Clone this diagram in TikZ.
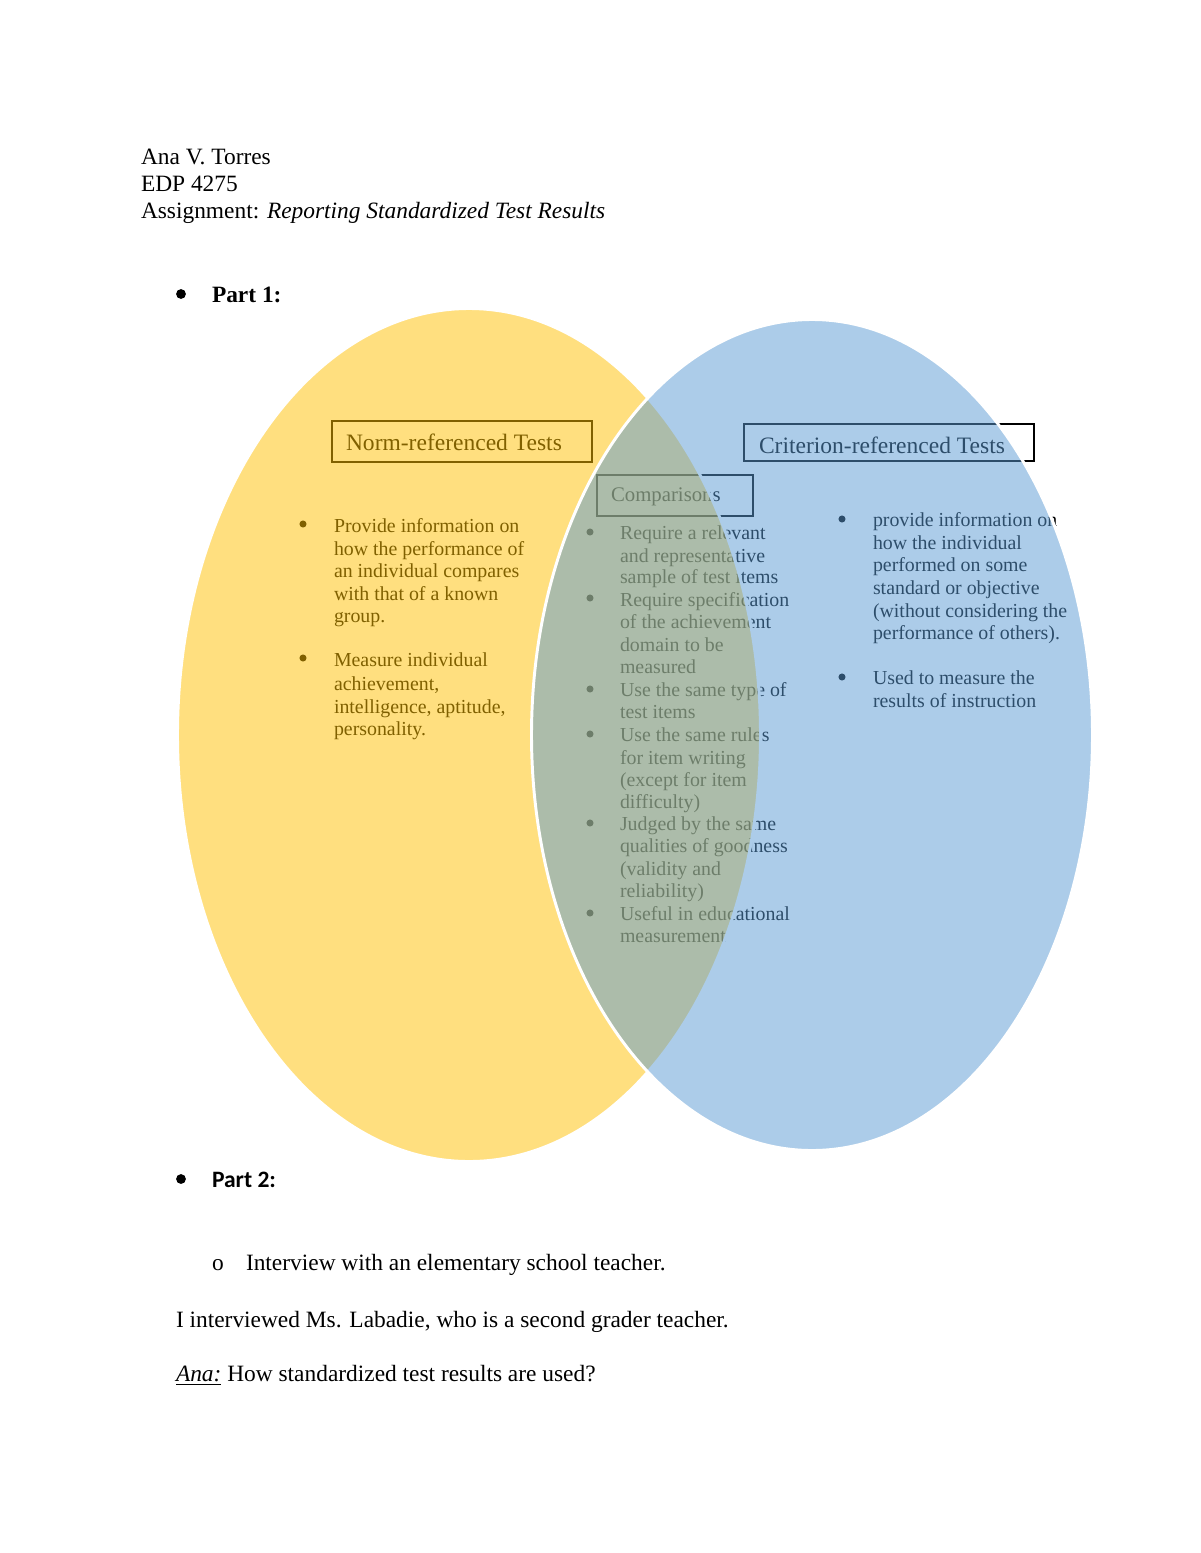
\documentclass[tikz,border=0pt]{standalone}
\usepackage{fontspec}
\setmainfont{Liberation Serif}
\newfontfamily\partfont{Carlito}
\definecolor{vennyellow}{HTML}{FFC000}
\definecolor{vennblue}{HTML}{5B9BD5}
\tikzset{
  txt/.style={anchor=base west,inner sep=0pt,outer sep=0pt,font=\fontsize{11.93}{14}\selectfont},
  lst/.style={anchor=base west,inner sep=0pt,outer sep=0pt,font=\fontsize{10.13}{12}\selectfont},
  hdr/.style={anchor=base west,inner sep=0pt,outer sep=0pt,font=\fontsize{12}{14}\selectfont},
  dot/.style={circle,fill=black,inner sep=0pt,minimum size=3.6pt},
  bigdot/.style={circle,fill=black,inner sep=0pt,minimum size=5pt},
  lblbox/.style={draw=black,line width=0.7pt},
  venn/.style={draw=white,line width=1.5pt,fill opacity=0.5,draw opacity=1}
}
\begin{document}
\begin{tikzpicture}[x=0.51pt,y=-0.51pt]
\useasboundingbox[fill=white] (0,0) rectangle (1200,1553);
% header
\node[txt] (t1) at (141,164.5) {Ana V. Torres};
\node[txt] (t2) at (141,191.5) {EDP 4275};
\node[txt] (t3) at (141,218.5) {Assignment: \textit{Reporting Standardized Test Results}};
\node[bigdot] (b1) at (181,294) {};
\node[txt] (p1) at (212,302) {\textbf{Part 1:}};
% label boxes
\node[lblbox,minimum width=132.6pt,minimum height=20.9pt,inner sep=0pt] (bn) at (462,441.5) {};
\node[lblbox,minimum width=79.6pt,minimum height=20.9pt,inner sep=0pt] (bc) at (675,495.5) {};
\node[lblbox,minimum width=147.9pt,minimum height=18.9pt,inner sep=0pt] (br) at (889,442.5) {};
\node[hdr] (hn) at (346,450) {Norm-referenced Tests};
\node[hdr] (hc) at (611,501) {\fontsize{10.6}{12}\selectfont Comparisons};
\node[hdr] (hr) at (759,453) {Criterion-referenced Tests};
% left list
\node[dot] (l1) at (303,524) {};
\node[lst] (la) at (334,532) {Provide information on};
\node[lst] (lb) at (334,555) {how the performance of};
\node[lst] (lc) at (334,577) {an individual compares};
\node[lst] (ld) at (334,600) {with that of a known};
\node[lst] (le) at (334,622) {group.};
\node[dot] (l2) at (303,658) {};
\node[lst] (lf) at (334,666) {Measure individual};
\node[lst] (lg) at (334,690) {achievement,};
\node[lst] (lh) at (334,713) {intelligence, aptitude,};
\node[lst] (li) at (334,735) {personality.};
% centre list
\node[dot] (c1) at (590,532) {};
\node[lst] (ca) at (620,539) {Require a relevant};
\node[lst] (cb) at (620,562) {and representative};
\node[lst] (cc) at (620,583) {sample of test items};
\node[dot] (c2) at (590,598) {};
\node[lst] (cd) at (620,606) {Require specification};
\node[lst] (ce) at (620,628) {of the achievement};
\node[lst] (cf) at (620,651) {domain to be};
\node[lst] (cg) at (620,673) {measured};
\node[dot] (c3) at (590,689) {};
\node[lst] (ch) at (620,696) {Use the same type of};
\node[lst] (ci) at (620,718) {test items};
\node[dot] (c4) at (590,734) {};
\node[lst] (cj) at (620,741) {Use the same rules};
\node[lst] (ck) at (620,764) {for item writing};
\node[lst] (cl) at (620,786) {(except for item};
\node[lst] (cm) at (620,808) {difficulty)};
\node[dot] (c5) at (590,823) {};
\node[lst] (cn) at (620,830) {Judged by the same};
\node[lst] (co) at (620,852) {qualities of goodness};
\node[lst] (cp) at (620,875) {(validity and};
\node[lst] (cq) at (620,897) {reliability)};
\node[dot] (c6) at (590,913) {};
\node[lst] (cr) at (620,920) {Useful in educational};
\node[lst] (cs) at (620,942) {measurement};
% right list
\node[dot] (r1) at (842,519) {};
\node[lst] (ra) at (873,526) {provide information on};
\node[lst] (rb) at (873,549) {how the individual};
\node[lst] (rc) at (873,571) {performed on some};
\node[lst] (rd) at (873,594) {standard or objective};
\node[lst] (re) at (873,617) {(without considering the};
\node[lst] (rf) at (873,639) {performance of others).};
\node[dot] (r2) at (842,677) {};
\node[lst] (rg) at (873,684) {Used to measure the};
\node[lst] (rh) at (873,707) {results of instruction};
% venn circles, over the text
\path[venn,fill=vennyellow] (469,735) ellipse [x radius=291.5,y radius=426.5];
\path[venn,fill=vennblue] (812,735) ellipse [x radius=280.5,y radius=415.5];
% bottom text
\node[bigdot] (b2) at (181,1179) {};
\node[txt,font=\partfont\fontsize{12}{14}\selectfont] (p2) at (212,1187) {\textbf{Part 2:}};
\node[txt] (o) at (212,1270) {o};
\node[txt] (q1) at (246,1270) {Interview with an elementary school teacher.};
\node[txt] (q2) at (176,1327) {I interviewed Ms. Labadie, who is a second grader teacher.};
\node[txt] (q3) at (176,1381) {\underline{\textit{Ana:}} How standardized test results are used?};
\end{tikzpicture}
\end{document}
